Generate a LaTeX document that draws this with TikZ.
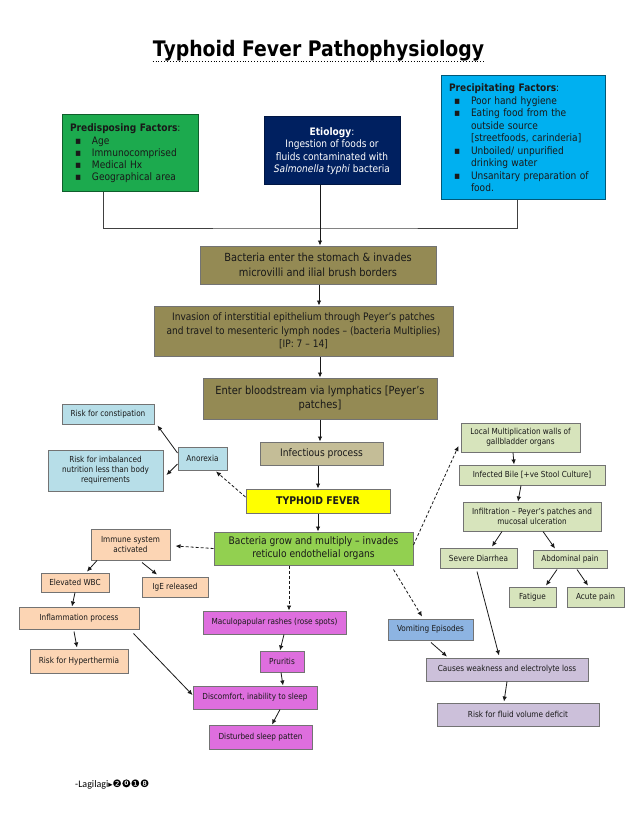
\documentclass[tikz,border=0pt]{standalone}
\usepackage{fontspec}
\setmainfont{DejaVu Sans}[FakeStretch=0.88]
\newfontfamily\carl{Carlito}
\newfontfamily\djv{DejaVu Sans}
\usetikzlibrary{arrows.meta}
\definecolor{cGreen}{RGB}{28,170,78}
\definecolor{cNavy}{RGB}{0,32,96}
\definecolor{cSky}{RGB}{0,176,240}
\definecolor{cOlive}{RGB}{148,138,84}
\definecolor{cTan}{RGB}{196,189,151}
\definecolor{cYel}{RGB}{255,255,0}
\definecolor{cLime}{RGB}{146,208,80}
\definecolor{cLblue}{RGB}{183,222,232}
\definecolor{cPeach}{RGB}{252,213,180}
\definecolor{cOrch}{RGB}{222,110,222}
\definecolor{cPgreen}{RGB}{215,228,188}
\definecolor{cVom}{RGB}{141,180,226}
\definecolor{cLav}{RGB}{204,192,218}
\definecolor{cText}{RGB}{25,25,25}
\newcommand\bulmark{\makebox[22pt][l]{\hspace*{5pt}▪}}
\newcommand\itemind{\hspace*{22pt}}
\begin{document}
\begin{tikzpicture}[x=1pt,y=-1pt,
  box/.style={draw=black!55, line width=1pt, inner sep=1pt, align=center, text=cText,
    font=\fontsize{8.3}{10}\selectfont},
  sz/.style 2 args={minimum width=#1pt, minimum height=#2pt},
  big/.style={box, font=\fontsize{10.4}{13}\selectfont},
  arr/.style={-{Latex[length=5pt,width=4.5pt]}, line width=0.8pt, draw=black!90},
  darr/.style={arr, dash pattern=on 3pt off 2pt},
  plain/.style={line width=0.8pt, draw=black!75},
  foottxt/.style={anchor=base west, inner sep=0, font=\djv\fontsize{10.2}{12}\selectfont}]
\fill[white] (0,0) rectangle (638,826);
\useasboundingbox (0,0) rectangle (638,826);

% title
\node[anchor=base, inner sep=0, font=\bfseries\fontsize{21.4}{24}\selectfont] (title) at (318.5,57) {Typhoid Fever Pathophysiology};
\draw[dotted, line width=0.9pt] ([yshift=-4pt]title.base west) -- ([yshift=-4pt]title.base east);

% top row
\node[box, fill=cGreen, draw=black!45!cGreen, sz={136}{77}, align=left, text width=120pt, inner xsep=8pt,
  font=\fontsize{10.3}{12.3}\selectfont] (pre) at (130,153.5)
  {\textbf{Predisposing Factors}:\\
   \bulmark Age\\
   \bulmark Immunocomprised\\
   \bulmark Medical Hx\\
   \bulmark Geographical area};
\node[box, fill=cNavy, draw=cNavy!70!black, text=white, sz={136}{68},
  font=\fontsize{10.3}{12.5}\selectfont] (eti) at (332,151)
  {\textbf{Etiology}:\\Ingestion of foods or\\fluids contaminated with\\\textit{Salmonella typhi} bacteria};
\node[box, fill=cSky, draw=black!50!cSky, sz={164}{124}, align=left, text width=148pt, inner xsep=8pt,
  font=\fontsize{10.3}{12.5}\selectfont] (prec) at (523,138)
  {\textbf{Precipitating Factors}:\\
   \bulmark Poor hand hygiene\\
   \bulmark Eating food from the\\
   \itemind outside source\\
   \itemind {[streetfoods, carinderia]}\\
   \bulmark Unboiled/ unpurified\\
   \itemind drinking water\\
   \bulmark Unsanitary preparation of\\
   \itemind food.};

% main chain
\node[box, fill=cOlive, sz={236}{38}, font=\fontsize{11.2}{15}\selectfont] (b1) at (318,265)
  {Bacteria enter the stomach \& invades\\microvilli and ilial brush borders};
\node[box, fill=cOlive, sz={299}{50}, font=\fontsize{10.3}{13.5}\selectfont] (b2) at (303.5,331)
  {Invasion of interstitial epithelium through Peyer’s patches\\and travel to mesenteric lymph nodes – (bacteria Multiplies)\\{}{[IP: 7 – 14]}};
\node[box, fill=cOlive, sz={234}{41}, font=\fontsize{11.2}{13.5}\selectfont] (b3) at (320,398.5)
  {Enter bloodstream via lymphatics [Peyer’s\\patches]};
\node[big, fill=cTan, sz={123}{23}] (inf) at (321.5,453.5) {Infectious process};
\node[box, fill=cYel, sz={144}{24}, font=\bfseries\fontsize{10.6}{13}\selectfont] (tf) at (318,501) {TYPHOID FEVER};
\node[big, fill=cLime, sz={199}{33}] (bg) at (313.5,548.5)
  {Bacteria grow and multiply – invades\\reticulo endothelial organs};

% left branch
\node[box, fill=cLblue, sz={92}{20}] (con) at (108,414) {Risk for constipation};
\node[box, fill=cLblue, sz={115}{41}] (imb) at (105.5,470.5) {Risk for imbalanced\\nutrition less than body\\requirements};
\node[box, fill=cLblue, sz={49}{23}] (ano) at (202.5,458.5) {Anorexia};
\node[box, fill=cPeach, sz={79}{31}] (imm) at (130.5,544.5) {Immune system\\activated};
\node[box, fill=cPeach, sz={68}{19}] (wbc) at (75,582.5) {Elevated WBC};
\node[box, fill=cPeach, sz={66}{20}] (ige) at (175,587) {IgE released};
\node[box, fill=cPeach, sz={120}{22}] (infl) at (79,618) {Inflammation process};
\node[box, fill=cPeach, sz={98}{24}] (hyp) at (79,661) {Risk for Hyperthermia};

% middle branch
\node[box, fill=cOrch, sz={143}{23}] (mac) at (274.5,622.5) {Maculopapular rashes (rose spots)};
\node[box, fill=cOrch, sz={44}{21}] (pru) at (282,661.5) {Pruritis};
\node[box, fill=cOrch, sz={124}{23}] (dis) at (255,697.5) {Discomfort, inability to sleep};
\node[box, fill=cOrch, sz={103}{24}] (dsp) at (260.5,737) {Disturbed sleep patten};

% right branch
\node[box, fill=cPgreen, sz={119}{29}] (loc) at (520.5,437.5) {Local Multiplication walls of\\gallbladder organs};
\node[box, fill=cPgreen, sz={146}{20}] (bil) at (532,475) {Infected Bile [+ve Stool Culture]};
\node[box, fill=cPgreen, sz={138}{29}] (ifl) at (532,516.5) {Infiltration – Peyer’s patches and\\mucosal ulceration};
\node[box, fill=cPgreen, sz={77}{20}] (dia) at (478.5,558) {Severe Diarrhea};
\node[box, fill=cPgreen, sz={74}{18}] (abd) at (570,559) {Abdominal pain};
\node[box, fill=cPgreen, sz={47}{20}] (fat) at (532.5,597) {Fatigue};
\node[box, fill=cPgreen, sz={57}{20}] (acu) at (595.5,597) {Acute pain};
\node[box, fill=cVom, sz={85}{21}] (vom) at (430.5,629.5) {Vomiting Episodes};
\node[box, fill=cLav, sz={162}{23}] (cau) at (507,669.5) {Causes weakness and electrolyte loss};
\node[box, fill=cLav, sz={162}{23}] (rfv) at (518,714.5) {Risk for fluid volume deficit};

% footer: -Lagilagi ▸❷⓿❶❽ (⓿ drawn as a shape)
\node[anchor=base west, inner sep=0, font=\carl\fontsize{10}{12}\selectfont] (foot) at (75,787)
  {-Lagilagi{\djv\fontsize{8.5}{10}\selectfont ▸}{\djv\fontsize{10.2}{12}\selectfont ❷}};
\fill[black] ([xshift=4.4pt,yshift=3.6pt]foot.base east) circle[radius=4.0pt];
\node[inner sep=0, text=white, font=\djv\bfseries\fontsize{6}{6}\selectfont] (zero) at ([xshift=4.4pt,yshift=3.6pt]foot.base east) {0};
\node[foottxt] (foot2) at ([xshift=8.8pt]foot.base east) {❶❽};

% connectors top
\coordinate (jn) at (320,228);
\draw[plain] ([xshift=-27pt]pre.south) |- (jn) -| ([xshift=-6pt]prec.south);
\draw[arr] ([xshift=-12pt]eti.south) -- ([xshift=2pt]b1.north);
\draw[arr] ([xshift=1pt]b1.south) -- ([xshift=1pt]b1.south |- b2.north);
\draw[arr] (b3.north |- b2.south) -- (b3.north);
\draw[arr] (b3.south) -- (b3.south |- inf.north);
\draw[arr] (tf.north |- inf.south) -- (tf.north);
\draw[arr] (tf.south) -- (tf.south |- bg.north);

% left connectors
\draw[darr] ([yshift=4pt]tf.west) -- ([xshift=13.5pt,yshift=-1pt]ano.south);
\draw[arr] ([yshift=5.5pt]ano.west) -- ([xshift=3pt,yshift=-1pt]con.south east);
\draw[arr] ([yshift=-5.5pt]ano.west) -- ([xshift=3pt,yshift=-4.5pt]imb.east);
\draw[darr] (bg.west) -- ([xshift=5pt,yshift=-1.5pt]imm.east);
\draw[arr] ([xshift=-33.5pt]imm.south) -- ([xshift=12pt,yshift=1pt]wbc.north);
\draw[arr] ([xshift=11.5pt,yshift=-2pt]imm.south) -- ([xshift=-18pt,yshift=2pt]ige.north);
\draw[arr] (wbc.south) -- ([xshift=-7pt]infl.north);
\draw[arr] ([xshift=-5pt,yshift=-2pt]infl.south) -- ([xshift=-2pt,yshift=1pt]hyp.north);
\draw[arr] ([xshift=-6pt,yshift=-4pt]infl.south east) -- ([yshift=2.5pt]dis.west);

% middle connectors
\draw[darr] ([xshift=-24.5pt]bg.south) -- ([xshift=-24.5pt]bg.south |- mac.north);
\draw[arr] ([xshift=9.5pt]mac.south) -- ([xshift=-2pt]pru.north);
\draw[arr] ([xshift=-1pt]pru.south) -- ([xshift=1pt]pru.south |- dis.north);
\draw[arr] ([xshift=25pt]dis.south) -- ([xshift=11.5pt]dsp.north);

% right connectors
\draw[darr] ([yshift=3.5pt]bg.east) -- ([xshift=-2pt,yshift=-8.5pt]loc.west);
\draw[arr] ([xshift=-7.5pt]loc.south) -- ([xshift=-18pt]bil.north);
\draw[arr] ([xshift=-11pt]bil.south) -- ([xshift=-14pt]ifl.north);
\draw[arr] ([xshift=-30pt]ifl.south) -- ([xshift=13.5pt,yshift=1pt]dia.north);
\draw[arr] ([xshift=11pt]ifl.south) -- ([xshift=-15pt,yshift=1pt]abd.north);
\draw[arr] ([xshift=-13pt,yshift=-1pt]abd.south) -- ([xshift=13.5pt,yshift=1pt]fat.north);
\draw[arr] ([xshift=7pt,yshift=-1pt]abd.south) -- ([xshift=-7.5pt,yshift=1pt]acu.north);
\draw[darr] ([xshift=-20pt,yshift=-4pt]bg.south east) -- ([xshift=-8.5pt,yshift=2pt]vom.north);
\draw[arr] ([xshift=0.5pt,yshift=-2pt]vom.south) -- ([xshift=-60pt,yshift=1pt]cau.north);
\draw[arr] ([xshift=-1.5pt,yshift=-3pt]dia.south) -- ([xshift=-8pt,yshift=2pt]cau.north);
\draw[arr] (cau.south) -- ([xshift=-14pt,yshift=1pt]rfv.north);
\end{tikzpicture}
\end{document}
